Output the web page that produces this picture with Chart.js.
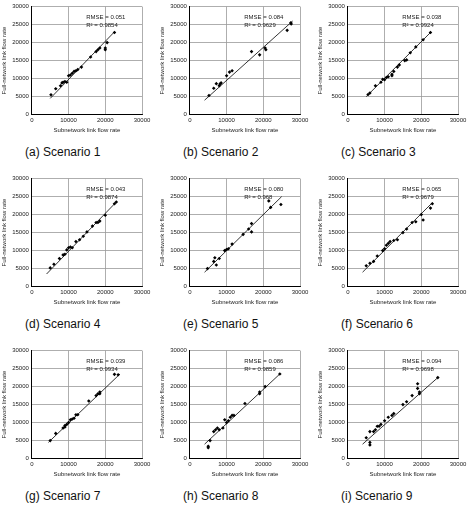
<!DOCTYPE html>
<html><head><meta charset="utf-8">
<script src="https://cdn.jsdelivr.net/npm/chart.js@4"></script>
<style>
body{margin:0;background:#fff;font-family:"Liberation Sans",Arial,sans-serif;}
.p{position:absolute;width:158px;height:172px;}
.p canvas{position:absolute;left:0;top:0;}
.cap{position:absolute;left:25px;top:145px;font-size:12px;color:#111;}
</style></head><body>
<div id="wrap"></div>
<script>
const captions = ["(a) Scenario 1","(b) Scenario 2","(c) Scenario 3","(d) Scenario 4","(e) Scenario 5","(f) Scenario 6","(g) Scenario 7","(h) Scenario 8","(i) Scenario 9"];
const rmse = ["0.051","0.084","0.038","0.043","0.080","0.065","0.039","0.086","0.094"];
const r2 = ["0.9854","0.9629","0.9924","0.9874","0.968","0.9679","0.9934","0.9859","0.9698"];
const fitLines = [
  [[5000,4500],[22500,23000]], [[4000,4000],[28000,26000]], [[5000,5000],[22500,22800]],
  [[4000,3500],[23000,23500]], [[4000,4000],[25000,25000]], [[4000,4000],[23000,23300]],
  [[4500,4500],[24000,23500]], [[4000,4000],[24500,23500]], [[4000,4000],[24500,22500]]
];
const s1 = [[5200,5500],[6500,7200],[7800,8000],[8200,8800],[8500,9000],[9000,9200],[9500,9000],[10000,10800],[10500,11000],[11000,11500],[11500,12000],[12000,12200],[12500,12500],[13500,13200],[16000,16000],[17500,17500],[18000,18000],[18500,18500],[20000,18500],[20000,18000],[20500,20000],[22500,22800]];
const s2 = [[5200,5300],[6500,7300],[7200,8600],[8000,8000],[8200,8500],[8500,8800],[10000,10800],[10800,11800],[11500,12200],[16800,17500],[19000,16600],[20500,18500],[20700,18000],[26500,23400],[27500,25500],[27600,25200]];
const s3 = [[5500,5600],[6000,6000],[7500,8000],[9000,9000],[9500,9800],[10000,9700],[10500,10300],[11000,10500],[12000,10800],[12000,11200],[12500,12000],[13500,13200],[14000,13800],[15500,15000],[16000,15200],[17000,17200],[18500,18800],[20500,20800],[22500,22800]];
const s4 = [[5000,5200],[6000,6200],[7500,7800],[8500,8800],[9000,9000],[9500,10200],[10000,10800],[10500,11000],[11000,10800],[12000,12500],[13000,13000],[14000,14000],[15000,15200],[16500,16800],[17500,17800],[18000,17800],[18500,18200],[20000,19800],[22500,23000],[23000,23500]];
const s5 = [[4800,5000],[6500,7000],[6800,8000],[7200,6000],[8000,7800],[9500,10000],[10000,10300],[10500,10500],[11500,11800],[14500,14500],[16000,16000],[16800,17500],[16800,15200],[21500,23800],[22000,22000],[24800,22800]];
const s6 = [[5000,5800],[6000,6500],[7000,7000],[8000,8500],[9500,10000],[10000,10500],[10500,11500],[11000,12000],[11500,12500],[12500,12800],[13500,13000],[15000,15000],[16000,16000],[17500,17800],[18500,18000],[20500,18500],[20000,20000],[22500,21800],[23000,23000]];
const s7 = [[5000,5000],[6500,7000],[8500,8500],[9000,8800],[9000,9200],[9500,9500],[10000,10000],[10500,10800],[11000,11000],[11500,11200],[12000,12200],[12500,12200],[15500,16000],[17500,17500],[18000,18000],[18500,18000],[18500,18500],[22500,23400],[23500,23300]];
const s8 = [[5000,3000],[5000,3400],[5500,5000],[6500,7500],[7000,8000],[7500,8500],[8000,8000],[9000,8500],[9500,10800],[10000,10000],[10500,10500],[11000,11500],[11500,12000],[12000,12000],[15000,15300],[19000,18500],[19000,18000],[20500,20000],[24500,23500]];
const s9 = [[5000,5800],[6000,7500],[6000,4500],[6000,3800],[7000,7500],[7500,8000],[8000,9000],[8500,9000],[9000,9500],[10000,10500],[11000,11500],[12000,12000],[12500,12500],[15000,15000],[16000,15800],[17500,17500],[19000,20800],[19000,19500],[19500,18000],[19500,18500],[24500,22500]];
const series = [s1,s2,s3,s4,s5,s6,s7,s8,s9];
const tickFont = {size:6, family:"Liberation Sans"};
const plain = v => String(v);

const statsPlugin = {
  id:'stats',
  afterDatasetsDraw(chart, args, opts){
    const {ctx, scales:{x,y}} = chart;
    ctx.save();
    ctx.font = '6px "Liberation Sans"';
    ctx.fillStyle = '#222';
    ctx.fillText('RMSE = ' + opts.rmse, x.getPixelForValue(14800), y.getPixelForValue(26500));
    ctx.fillText('R² = ' + opts.r2, x.getPixelForValue(14800), y.getPixelForValue(24300));
    ctx.restore();
  }
};

const wrap = document.getElementById('wrap');
series.forEach((pts, i) => {
  const div = document.createElement('div');
  div.className = 'p';
  div.style.left = (i % 3) * 158 + 'px';
  div.style.top = Math.floor(i / 3) * 172 + 'px';
  const cv = document.createElement('canvas');
  cv.width = 158; cv.height = 135;
  cv.style.width = '158px'; cv.style.height = '135px';
  div.appendChild(cv);
  const cap = document.createElement('div');
  cap.className = 'cap'; cap.textContent = captions[i];
  div.appendChild(cap);
  wrap.appendChild(div);
  new Chart(cv, {
    type: 'scatter',
    data: { datasets: [
      { data: pts.map(p => ({x:p[0], y:p[1]})), pointStyle:'rectRot', pointRadius:1.8,
        backgroundColor:'#000', borderColor:'#000', borderWidth:0 },
      { type:'line', data: fitLines[i].map(p => ({x:p[0], y:p[1]})), borderColor:'#000',
        borderWidth:0.8, pointRadius:0, fill:false }
    ]},
    options: {
      responsive:false, animation:false, devicePixelRatio:1,
      layout:{padding:{top:2,right:16,left:0,bottom:0}},
      plugins:{legend:{display:false}, tooltip:{enabled:false}, stats:{rmse:rmse[i], r2:r2[i]}},
      scales:{
        x:{type:'linear', min:0, max:30000, ticks:{stepSize:5000, font:tickFont, color:'#222', maxRotation:0, padding:2, callback:plain},
           grid:{color:'#999', lineWidth:0.8, tickLength:0}, border:{color:'#000'},
           title:{display:true, text:'Subnetwork link flow rate', font:tickFont, color:'#222', padding:1}},
        y:{min:0, max:30000, ticks:{stepSize:5000, font:tickFont, color:'#222', padding:3, callback:plain},
           grid:{color:'#999', lineWidth:0.8, tickLength:0}, border:{color:'#000'},
           title:{display:true, text:'Full-network link flow rate', font:tickFont, color:'#222', padding:1}}
      }
    },
    plugins:[statsPlugin]
  });
});
</script>
</body></html>
